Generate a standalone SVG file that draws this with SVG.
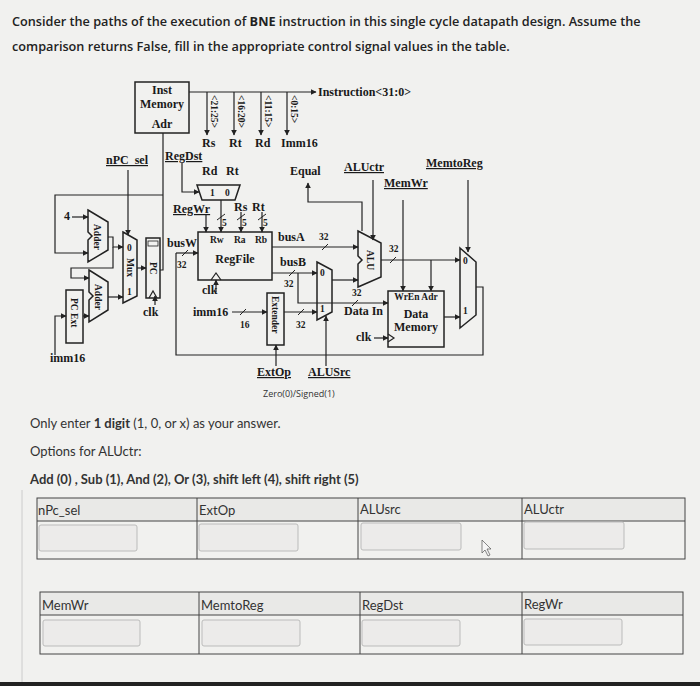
<svg xmlns="http://www.w3.org/2000/svg" width="700" height="686" viewBox="0 0 700 686">
<defs>
<marker id="ar" viewBox="0 0 10 10" refX="9" refY="5" markerWidth="5" markerHeight="5" orient="auto"><path d="M0,0L10,5L0,10z" fill="#222"/></marker>
<style>
.d{font-family:"Liberation Serif",serif;font-weight:bold;font-size:12px;fill:#1a1a1a}
.s{font-size:9.5px}
.u{text-decoration:underline}
.h{font-family:"Open Sans","Noto Sans",sans-serif;font-size:12.7px;fill:#222;font-weight:600}
.t{font-family:Lato,"Open Sans",sans-serif;font-size:13px;fill:#333}
.bx{fill:none;stroke:#222;stroke-width:1.5}
.w{fill:none;stroke:#222;stroke-width:1.2}
.a{fill:none;stroke:#222;stroke-width:1.2;marker-end:url(#ar)}
.tb{fill:none;stroke:#444;stroke-width:1}
.in{fill:#ecebea;stroke:#bbb;stroke-width:1}
</style>
</defs>
<rect width="700" height="686" fill="#f1f1ef"/>
<rect x="0" y="682" width="700" height="4" fill="#222"/>
<line x1="22" y1="490" x2="22" y2="682" stroke="#ccc"/>
<text class="h" x="12" y="26">Consider the paths of the execution of <tspan font-weight="bold">BNE</tspan> instruction in this single cycle datapath design. Assume the</text>
<text class="h" x="12" y="51">comparison returns False, fill in the appropriate control signal values in the table.</text>

<g id="connectors">
<line class="a" x1="189" y1="92" x2="316" y2="92"/>
<line class="a" x1="207" y1="92" x2="207" y2="135"/>
<line class="a" x1="234" y1="92" x2="234" y2="135"/>
<line class="a" x1="261" y1="92" x2="261" y2="135"/>
<line class="a" x1="287" y1="92" x2="287" y2="135"/>
<polyline class="w" points="163,133 163,270 160,270"/>
<polyline class="a" points="163,195 55,195 55,253 88,253"/>
<line class="a" x1="72" y1="217" x2="88" y2="217"/>
<polyline class="a" points="108,237 113,237 113,247 123,247"/>
<polyline class="a" points="113,247 113,268 71,268 71,278 89,278"/>
<line class="a" x1="108" y1="297" x2="123" y2="297"/>
<line class="a" x1="137" y1="268" x2="146" y2="268"/>
<line class="a" x1="128" y1="170" x2="128" y2="235"/>
<polyline class="a" points="55,355 55,316 66,316"/>
<line class="a" x1="83" y1="316" x2="89" y2="316"/>
<line class="a" x1="155" y1="305" x2="155" y2="296"/>
<polyline class="a" points="182,163 182,192 199,192"/>
<line class="a" x1="221" y1="200" x2="221" y2="232"/>
<line class="a" x1="206" y1="215" x2="206" y2="232"/>
<line class="a" x1="241" y1="212" x2="241" y2="232"/>
<line class="a" x1="262" y1="212" x2="262" y2="232"/>
<line class="a" x1="216" y1="292" x2="216" y2="280"/>
<line class="a" x1="272" y1="247" x2="358" y2="247"/>
<line class="a" x1="272" y1="273" x2="317" y2="273"/>
<polyline class="a" points="298,273 298,303 388,303"/>
<line class="a" x1="232" y1="312" x2="267" y2="312"/>
<line class="a" x1="284" y1="312" x2="317" y2="312"/>
<line class="a" x1="276" y1="366" x2="276" y2="345"/>
<line class="a" x1="326" y1="366" x2="326" y2="316"/>
<line class="a" x1="332" y1="280" x2="358" y2="280"/>
<polyline class="a" points="362,231 362,202 308,202 308,183"/>
<line class="a" x1="373" y1="180" x2="373" y2="240"/>
<line class="a" x1="381" y1="260" x2="460" y2="260"/>
<line class="a" x1="403" y1="200" x2="403" y2="291"/>
<line class="a" x1="431" y1="260" x2="431" y2="291"/>
<line class="a" x1="468" y1="180" x2="468" y2="252"/>
<line class="a" x1="444" y1="317" x2="460" y2="317"/>
<polyline class="w" points="476,287 483,287 483,355 176,355 176,253"/>
<line class="a" x1="176" y1="253" x2="198" y2="253"/>
<line class="a" x1="374" y1="338" x2="388" y2="338"/>
<g stroke="#222" stroke-width="1">
<line x1="217" y1="220" x2="225" y2="214"/><line x1="237" y1="220" x2="245" y2="214"/><line x1="258" y1="220" x2="266" y2="214"/>
<line x1="182" y1="256" x2="188" y2="250"/><line x1="322" y1="250" x2="328" y2="244"/><line x1="289" y1="276" x2="295" y2="270"/>
<line x1="240" y1="315" x2="246" y2="309"/><line x1="298" y1="315" x2="304" y2="309"/><line x1="352" y1="306" x2="358" y2="300"/><line x1="390" y1="263" x2="396" y2="257"/>
</g>
</g>

<g id="instmem"><rect class="bx" x="135" y="82" width="54" height="51"/>
<text class="d" x="162" y="94" text-anchor="middle">Inst</text><text class="d" x="162" y="108" text-anchor="middle">Memory</text><text class="d" x="162" y="128" text-anchor="middle">Adr</text></g>
<text class="d" x="318" y="96">Instruction&lt;31:0&gt;</text>
<g id="taps" class="d s">
<text transform="translate(211,95) rotate(90)">&lt;21:25&gt;</text>
<text transform="translate(238,95) rotate(90)">&lt;16:20&gt;</text>
<text transform="translate(265,95) rotate(90)">&lt;11:15&gt;</text>
<text transform="translate(291,95) rotate(90)">&lt;0:15&gt;</text>
</g>
<text class="d" x="202" y="147">Rs</text><text class="d" x="229" y="147">Rt</text><text class="d" x="255" y="147">Rd</text><text class="d" x="281" y="147">Imm16</text>
<text class="d u" x="106" y="164">nPC_sel</text>
<text class="d u" x="165" y="160">RegDst</text>
<text class="d" x="202" y="175">Rd</text><text class="d" x="226" y="175">Rt</text>
<g id="regdstmux"><polygon class="bx" points="197,185 240,185 235,200 202,200"/><text class="d s" x="210" y="196">1</text><text class="d s" x="225" y="196">0</text></g>
<text class="d u" x="173" y="213">RegWr</text>
<text class="d" x="234" y="211">Rs</text><text class="d" x="252" y="211">Rt</text>
<text class="d s" x="222" y="226">5</text><text class="d s" x="242" y="226">5</text><text class="d s" x="263" y="226">5</text>
<g id="regfile"><rect class="bx" x="198" y="232" width="74" height="48"/>
<text class="d s" x="210" y="243">Rw</text><text class="d s" x="234" y="243">Ra</text><text class="d s" x="255" y="243">Rb</text>
<text class="d" x="235" y="263" text-anchor="middle">RegFile</text>
<polyline class="w" points="211,280 216,273 221,280"/></g>
<text class="d" x="167" y="247">busW</text><text class="d s" x="177" y="268">32</text>
<text class="d" x="202" y="294">clk</text>
<text class="d" x="278" y="241">busA</text><text class="d s" x="319" y="240">32</text>
<text class="d" x="280" y="266">busB</text><text class="d s" x="284" y="287">32</text>
<text class="d" x="193" y="316">imm16</text><text class="d s" x="240" y="328">16</text><text class="d s" x="296" y="328">32</text>
<g id="extender"><rect class="bx" x="267" y="293" width="17" height="52"/><text class="d s" transform="translate(272,296) rotate(90)">Extender</text></g>
<text class="d u" x="257" y="376">ExtOp</text><text class="d u" x="308" y="376">ALUSrc</text>
<text x="263" y="397" font-family="'Open Sans',sans-serif" font-size="9" fill="#333">Zero(0)/Signed(1)</text>
<g id="alusrcmux"><polygon class="bx" points="317,262 332,270 332,312 317,320"/><text class="d s" x="320" y="276">0</text><text class="d s" x="320" y="312">1</text></g>
<g id="alu"><polygon class="bx" points="358,231 381,243 381,277 358,287 358,264 362,260 358,256"/><text class="d s" transform="translate(367,250) rotate(90)">ALU</text></g>
<text class="d" x="290" y="175">Equal</text>
<text class="d u" x="344" y="171">ALUctr</text>
<text class="d u" x="384" y="187">MemWr</text>
<text class="d u" x="426" y="167">MemtoReg</text>
<text class="d s" x="389" y="252">32</text>
<text class="d s" x="352" y="296">32</text>
<text class="d" x="344" y="315">Data In</text>
<g id="datamem"><rect class="bx" x="388" y="291" width="56" height="56"/>
<text class="d s" x="416" y="300" text-anchor="middle">WrEn Adr</text>
<text class="d" x="416" y="318" text-anchor="middle">Data</text><text class="d" x="416" y="331" text-anchor="middle">Memory</text>
<polyline class="w" points="388,334 394,338 388,342"/></g>
<text class="d" x="356" y="341">clk</text>
<g id="memmux"><polygon class="bx" points="460,248 476,262 476,315 460,328"/><text class="d s" x="463" y="264">0</text><text class="d s" x="463" y="314">1</text></g>
<g id="adder1"><polygon class="bx" points="88,210 108,222 108,250 88,262 88,240 92,236 88,232"/><text class="d s" transform="translate(94,224) rotate(90)">Adder</text></g>
<text class="d" x="64" y="220">4</text>
<g id="adder2"><polygon class="bx" points="89,270 108,282 108,310 89,322 89,300 93,296 89,292"/><text class="d s" transform="translate(95,284) rotate(90)">Adder</text></g>
<g id="pcmux"><polygon class="bx" points="123,232 137,240 137,296 123,303"/><text class="d s" x="127" y="251" font-size="8">0</text><text class="d s" transform="translate(127,258) rotate(90)">Mux</text><text class="d s" x="127" y="295" font-size="8">1</text></g>
<g id="pc"><rect class="bx" x="146" y="238" width="14" height="60"/><text class="d s" transform="translate(150,262) rotate(90)">PC</text><polyline class="w" points="149,298 153,291 157,298"/><rect x="148" y="241" width="10" height="5" fill="none" stroke="#222" stroke-width="0.8"/></g>
<text class="d" x="143" y="316">clk</text>
<g id="pcext"><rect class="bx" x="66" y="290" width="17" height="53"/><text class="d s" transform="translate(71,298) rotate(90)">PC Ext</text></g>
<text class="d" x="50" y="362">imm16</text>

<text class="t" x="30" y="428">Only enter <tspan font-weight="bold">1 digit</tspan> (1, 0, or x) as your answer.</text>
<text class="t" x="30" y="456">Options for ALUctr:</text>
<text class="t" x="30" y="484" font-weight="bold">Add (0) , Sub (1), And (2), Or (3), shift left (4), shift right (5)</text>

<g id="table1">
<rect x="37" y="498" width="648" height="23" fill="#e9e9e7"/>
<rect class="tb" x="37" y="498" width="648" height="61"/>
<line class="tb" x1="37" y1="521" x2="685" y2="521"/>
<line class="tb" x1="197" y1="498" x2="197" y2="559"/><line class="tb" x1="358" y1="498" x2="358" y2="559"/><line class="tb" x1="522" y1="498" x2="522" y2="559"/>
<text class="t" x="38" y="515">nPc_sel</text><text class="t" x="199" y="515">ExtOp</text><text class="t" x="360" y="514">ALUsrc</text><text class="t" x="524" y="514">ALUctr</text>
<rect class="in" x="39" y="525" width="98" height="26" rx="2"/><rect class="in" x="199" y="524" width="99" height="27" rx="2"/><rect class="in" x="361" y="523" width="100" height="27" rx="2"/><rect class="in" x="524" y="522" width="100" height="27" rx="2"/>
</g>
<g id="table2">
<rect x="40" y="592" width="643" height="23" fill="#e9e9e7"/>
<rect class="tb" x="40" y="592" width="643" height="62"/>
<line class="tb" x1="40" y1="615" x2="683" y2="615"/>
<line class="tb" x1="199" y1="592" x2="199" y2="654"/><line class="tb" x1="360" y1="592" x2="360" y2="654"/><line class="tb" x1="522" y1="592" x2="522" y2="654"/>
<text class="t" x="42" y="610">MemWr</text><text class="t" x="201" y="610">MemtoReg</text><text class="t" x="362" y="610">RegDst</text><text class="t" x="524" y="609">RegWr</text>
<rect class="in" x="43" y="620" width="97" height="26" rx="2"/><rect class="in" x="202" y="620" width="98" height="26" rx="2"/><rect class="in" x="362" y="620" width="98" height="26" rx="2"/><rect class="in" x="524" y="619" width="98" height="26" rx="2"/>
</g>
<path d="M482,540 L482,553 L485,550 L488,556 L490,555 L487,549 L491,549 Z" fill="#f5f5f5" stroke="#555" stroke-width="0.7"/>
</svg>
